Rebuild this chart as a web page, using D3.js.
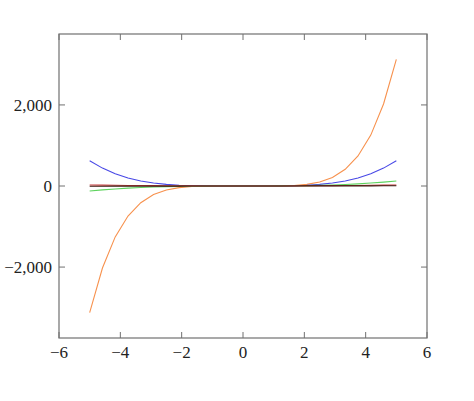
<!DOCTYPE html>
<html>
<head>
<meta charset="utf-8">
<script src="https://cdn.jsdelivr.net/npm/d3@7"></script>
<style>
  body { margin: 0; background: #fff; }
</style>
</head>
<body>
<div id="chart"></div>
<script>
// sample positions (25 samples from -5 to 5)
const xs = [-5, -4.583, -4.167, -3.75, -3.333, -2.917, -2.5, -2.083, -1.667, -1.25, -0.833, -0.417, 0,
            0.417, 0.833, 1.25, 1.667, 2.083, 2.5, 2.917, 3.333, 3.75, 4.167, 4.583, 5];

const quintic = [-3125, -2022.5, -1256, -741.6, -411.5, -211.1, -97.7, -39.2, -12.9, -3.1, -0.4, -0.01, 0,
                 0.01, 0.4, 3.1, 12.9, 39.2, 97.7, 211.1, 411.5, 741.6, 1256, 2022.5, 3125];
const quartic = [625, 441.3, 301.4, 197.8, 123.5, 72.4, 39.1, 18.8, 7.7, 2.4, 0.5, 0.03, 0,
                 0.03, 0.5, 2.4, 7.7, 18.8, 39.1, 72.4, 123.5, 197.8, 301.4, 441.3, 625];
const cubic = [-125, -96.3, -72.3, -52.7, -37.0, -24.8, -15.6, -9.0, -4.6, -1.95, -0.58, -0.07, 0,
               0.07, 0.58, 1.95, 4.6, 9.0, 15.6, 24.8, 37.0, 52.7, 72.3, 96.3, 125];
const square = [25, 21.0, 17.4, 14.1, 11.1, 8.5, 6.25, 4.34, 2.78, 1.56, 0.69, 0.17, 0,
                0.17, 0.69, 1.56, 2.78, 4.34, 6.25, 8.5, 11.1, 14.1, 17.4, 21.0, 25];
const linear = [-5, -4.583, -4.167, -3.75, -3.333, -2.917, -2.5, -2.083, -1.667, -1.25, -0.833, -0.417, 0,
                0.417, 0.833, 1.25, 1.667, 2.083, 2.5, 2.917, 3.333, 3.75, 4.167, 4.583, 5];

const xTicks = [-6, -4, -2, 0, 2, 4, 6];
const yTicks = [-2000, 0, 2000];

const series = [
  {name: "x^5", values: quintic, color: "#f7914d"},
  {name: "x^4", values: quartic, color: "#4848e6"},
  {name: "x^3", values: cubic, color: "#5fd35f"},
  {name: "x^2", values: square, color: "#c83c3c"},
  {name: "x", values: linear, color: "#3a1a10"}
];

const W = 474, H = 401;
const margin = {top: 34, right: 47, bottom: 63, left: 59};
const width = W - margin.left - margin.right;
const height = H - margin.top - margin.bottom;
const serif = "'Liberation Serif', 'DejaVu Serif', serif";

const svg = d3.select("#chart").append("svg")
    .attr("width", W)
    .attr("height", H)
  .append("g")
    .attr("transform", `translate(${margin.left},${margin.top})`);

const x = d3.scaleLinear().domain([-6, 6]).range([0, width]);
const y = d3.scaleLinear().domain([-3750, 3750]).range([height, 0]);

const fmt = d => (d < 0 ? "\u2212" : "") + d3.format(",")(Math.abs(d));
const tickLen = 6;
const axisColor = "#707070";

// curves
const line = d3.line()
    .x((d, i) => x(xs[i]))
    .y(d => y(d));

svg.selectAll(".curve")
  .data(series)
  .enter()
  .append("path")
    .attr("class", "curve")
    .attr("d", d => line(d.values))
    .attr("fill", "none")
    .attr("stroke", d => d.color)
    .attr("stroke-width", 1.1);

// ticks on all four sides, pointing in
const tk = svg.append("g").attr("stroke", axisColor).attr("stroke-width", 1);
xTicks.forEach(t => {
  tk.append("line").attr("x1", x(t)).attr("x2", x(t)).attr("y1", height).attr("y2", height - tickLen);
  tk.append("line").attr("x1", x(t)).attr("x2", x(t)).attr("y1", 0).attr("y2", tickLen);
});
yTicks.forEach(t => {
  tk.append("line").attr("x1", 0).attr("x2", tickLen).attr("y1", y(t)).attr("y2", y(t));
  tk.append("line").attr("x1", width).attr("x2", width - tickLen).attr("y1", y(t)).attr("y2", y(t));
});

// frame
svg.append("rect")
    .attr("x", 0).attr("y", 0)
    .attr("width", width).attr("height", height)
    .attr("fill", "none")
    .attr("stroke", axisColor)
    .attr("stroke-width", 1.2);

// tick labels
svg.selectAll(".xlab")
  .data(xTicks)
  .enter()
  .append("text")
    .attr("x", d => x(d))
    .attr("y", height + 20)
    .attr("text-anchor", "middle")
    .attr("font-family", serif)
    .attr("font-size", 17)
    .attr("fill", "#222")
    .text(fmt);

svg.selectAll(".ylab")
  .data(yTicks)
  .enter()
  .append("text")
    .attr("x", -7)
    .attr("y", d => y(d))
    .attr("dy", "0.34em")
    .attr("text-anchor", "end")
    .attr("font-family", serif)
    .attr("font-size", 17)
    .attr("fill", "#222")
    .text(fmt);
</script>
</body>
</html>
